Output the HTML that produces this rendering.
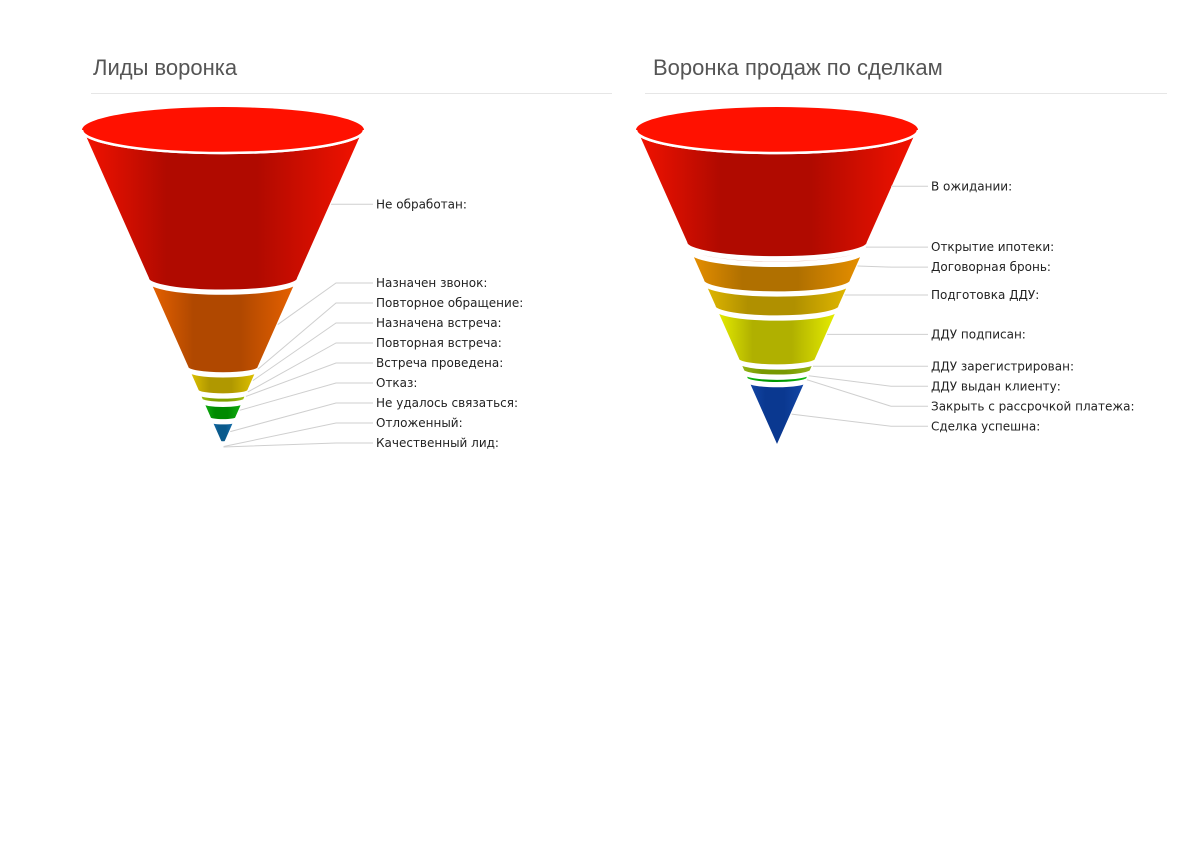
<!DOCTYPE html>
<html><head><meta charset="utf-8">
<style>
html,body{margin:0;padding:0;background:#fff;}
svg{display:block;}
.title{font-family:"Liberation Sans","DejaVu Sans",sans-serif;font-size:22px;fill:#555;}
.lbl{font-family:"DejaVu Sans","Liberation Sans",sans-serif;font-size:12px;fill:#222;}
</style></head>
<body>
<svg id="chart" width="1200" height="849" viewBox="0 0 1200 849">
<defs id="defs"></defs>
<text x="93" y="75" class="title">Лиды воронка</text>
<line x1="91" y1="93.5" x2="612" y2="93.5" stroke="#e6e6e6"/>
<text x="653" y="75" class="title">Воронка продаж по сделкам</text>
<line x1="645" y1="93.5" x2="1167" y2="93.5" stroke="#e6e6e6"/>
<g id="leftFunnel"></g>
<g id="rightFunnel"></g>
</svg>
<script>
// Left funnel data
const leftStages = ["Не обработан","Назначен звонок","Повторное обращение","Назначена встреча","Повторная встреча","Встреча проведена","Отказ","Не удалось связаться","Отложенный","Качественный лид"];
const leftValues = [150,87,0,20,0,6,16,21,3,0];
// Right funnel data
const rightStages = ["В ожидании","Открытие ипотеки","Договорная бронь","Подготовка ДДУ","ДДУ подписан","ДДУ зарегистрирован","ДДУ выдан клиенту","Закрыть с рассрочкой платежа","Сделка успешна"];
const rightValues = [113,3,29,23,50,8,5,0,66];

const leftColors = [["#f41200","#b00a00"],["#e86200","#b04800"],["#999","#777"],["#e2c400","#b09800"],["#999","#777"],["#a8c410","#80a000"],["#14b414","#008a00"],["#1a74b4","#0a5a8c"],["#3030a0","#202080"],["#999","#777"]];
const rightColors = [["#f41200","#b00a00"],["#f4c8b8","#e0a898"],["#e89000","#b07000"],["#e2b800","#b09000"],["#e8f000","#b0b000"],["#98b818","#789800"],["#14c014","#009a00"],["#999","#777"],["#1448a8","#0a3890"]];

const NS="http://www.w3.org/2000/svg";
const defs=document.getElementById('defs');
let gid=0;
function grad(c){
  const id='g'+(gid++);
  const lg=document.createElementNS(NS,'linearGradient');
  lg.setAttribute('id',id);lg.setAttribute('x1','0');lg.setAttribute('x2','1');lg.setAttribute('y1','0');lg.setAttribute('y2','0');
  [[0,c[0]],[0.3,c[1]],[0.62,c[1]],[1,c[0]]].forEach(s=>{
    const st=document.createElementNS(NS,'stop');st.setAttribute('offset',s[0]);st.setAttribute('stop-color',s[1]);lg.appendChild(st);
  });
  defs.appendChild(lg);return id;
}
function drawFunnel(gEl,cx,topY,apexY,topHW,names,values,colors,labelX){
  const ratio=0.163, gap=3;
  const hw=y=>topHW*(apexY-y)/(apexY-topY);
  const nz=values.filter(v=>v>0).length;
  const sum=values.reduce((a,b)=>a+b,0);
  const scale=(apexY-topY-gap*(nz-1))/sum;
  let y=topY; const nat=[]; const ends=[];
  values.forEach((v,i)=>{
    if(v<=0){ nat.push(y-gap/2); ends.push(null); return; }
    const y0=y, y1=y+v*scale;
    const h0=hw(y0), h1=hw(y1);
    const p=document.createElementNS(NS,'path');
    let d=`M${cx-h0},${y0} A${h0},${h0*ratio} 0 0 0 ${cx+h0},${y0} L${cx+h1},${y1} `;
    if(h1>0.5) d+=`A${h1},${h1*ratio} 0 0 1 ${cx-h1},${y1} `; else d+=`L${cx-h1},${y1} `;
    d+='Z';
    p.setAttribute('d',d);
    p.setAttribute('fill','url(#'+grad(colors[i])+')');
    p.setAttribute('stroke','#fff');p.setAttribute('stroke-width','2.5');
    
    
    gEl.appendChild(p);
    nat.push((y0+y1)/2);
    y=y1+gap;
  });
  // top ellipse
  const e=document.createElementNS(NS,'ellipse');
  e.setAttribute('cx',cx);e.setAttribute('cy',topY);e.setAttribute('rx',topHW);e.setAttribute('ry',topHW*0.163);
  e.setAttribute('fill','#ff1100');e.setAttribute('stroke','none');
  
  
  gEl.appendChild(e);
  const arc=document.createElementNS(NS,'path');
  arc.setAttribute('d',`M${cx-topHW},${topY} A${topHW},${topHW*0.163} 0 0 0 ${cx+topHW},${topY}`);
  arc.setAttribute('fill','none');arc.setAttribute('stroke','#fff');arc.setAttribute('stroke-width','2.5');
  
  
  gEl.appendChild(arc);
  // label layout
  const ly=nat.slice();
  for(let i=1;i<ly.length;i++) ly[i]=Math.max(ly[i],ly[i-1]+20);
  const lim=apexY-5;
  if(ly[ly.length-1]>lim) ly[ly.length-1]=lim;
  for(let i=ly.length-2;i>=0;i--) ly[i]=Math.min(ly[i],ly[i+1]-20);
  names.forEach((n,i)=>{
    const py=Math.min(nat[i],apexY-1), px=cx+hw(py);
    const ln=document.createElementNS(NS,'polyline');
    ln.setAttribute('points',`${px},${py} ${labelX-40},${ly[i]} ${labelX-3},${ly[i]}`);
    ln.setAttribute('fill','none');ln.setAttribute('stroke','#cfcfcf');ln.setAttribute('stroke-width','1');
    
    
    gEl.appendChild(ln);
    const t=document.createElementNS(NS,'text');
    t.setAttribute('x',labelX);t.setAttribute('y',ly[i]+4);t.setAttribute('class','lbl');
    t.textContent=n+':';
    
    
    gEl.appendChild(t);
  });
}
drawFunnel(document.getElementById('leftFunnel'),223,130,448,141,leftStages,leftValues,leftColors,376);
drawFunnel(document.getElementById('rightFunnel'),777,130,447,141,rightStages,rightValues,rightColors,931);
</script>
</body></html>
